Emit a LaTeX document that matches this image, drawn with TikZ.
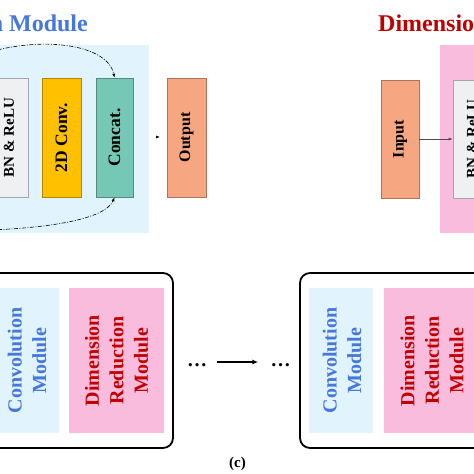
\documentclass[tikz,border=0pt]{standalone}
\usepackage{fontspec}
\setmainfont{Liberation Serif}
\usetikzlibrary{arrows.meta}
\definecolor{cblue}{RGB}{225,243,252}
\definecolor{cpink}{RGB}{250,188,220}
\definecolor{tblue}{RGB}{70,120,220}
\definecolor{tred}{RGB}{192,0,0}
\definecolor{csalmon}{RGB}{246,166,128}
\definecolor{cyellow}{RGB}{255,192,0}
\definecolor{cteal}{RGB}{118,200,182}
\definecolor{cgray}{RGB}{238,240,242}
\tikzset{
  layer/.style={draw=#1!70!black, line width=0.6pt, rotate=90, minimum width=119pt, minimum height=38pt, inner sep=0pt, font=\fontsize{16}{18}\selectfont\bfseries},
  title/.style={font=\fontsize{24}{28}\selectfont\bfseries, inner sep=0pt},
  modtext/.style={rotate=90, align=center, inner sep=0pt, font=\fontsize{20}{24.5}\selectfont\bfseries},
  frame/.style={draw=black, line width=1.8pt, rounded corners=10pt},
  skip/.style={-{Latex[length=4pt,width=3pt]}, line width=0.6pt, dash pattern=on 4pt off 1.5pt on 1pt off 1.5pt},
  thin arrow/.style={-{Latex[length=4pt,width=3pt]}, line width=0.6pt, draw=black!70},
  dots/.style={font=\fontsize{20}{24}\selectfont\bfseries, inner sep=2pt},
}
\begin{document}
\begin{tikzpicture}[x=1pt,y=-1pt]
\useasboundingbox (0,0) rectangle (474,474);
\clip (0,0) rectangle (474,474);
% top left: convolution module
\fill[cblue] (-10,45) rectangle (149,233);
\node[title, text=tblue, anchor=base east] (tl) at (88,31) {Convolution Module};
\node[layer=cgray, fill=cgray, draw=gray!70, font=\fontsize{15}{18}\selectfont\bfseries] (bnL) at (9,137.5) {BN \& ReLU};
\node[layer=cyellow, fill=cyellow, minimum height=39pt, font=\fontsize{17.5}{18}\selectfont\bfseries] (conv) at (61.5,137.5) {2D Conv.};
\node[layer=cteal, fill=cteal, minimum height=37pt, font=\fontsize{17.5}{18}\selectfont\bfseries] (concat) at (114.5,137.5) {Concat.};
\node[layer=csalmon, fill=csalmon, minimum height=39pt] (output) at (186.5,137.5) {Output};
\coordinate (sA) at (-10,52);
\coordinate (sB) at (-10,230);
\draw[skip] (sA) .. controls (45,36) and (108,45) .. (concat.east);
\draw[skip] (sB) .. controls (45,228) and (105,220) .. (concat.west);
\coordinate (tA) at (156,137);
\coordinate (tB) at (160,137);
\draw[thin arrow, draw=black] (tA) -- (tB);
% top right: dimension reduction module
\fill[cpink] (440,45) rectangle (494,233);
\node[title, text=tred, anchor=base west] (tr) at (378,31) {Dimension Reduction Module};
\node[layer=csalmon, fill=csalmon, minimum width=118pt] (input) at (400,139) {Input};
\node[layer=cgray, fill=cgray, draw=gray!70, minimum width=118pt, font=\fontsize{15}{18}\selectfont\bfseries] (bnR) at (472,139) {BN \& ReLU};
\draw[thin arrow] (input) -- (bnR);
% bottom row
\draw[frame] (-20,273) rectangle (173,448);
\fill[cblue] (-5,288) rectangle (59,433);
\node[modtext, text=tblue] (cmL) at (27,360.5) {Convolution\\Module};
\fill[cpink] (69,288) rectangle (164,433);
\node[modtext, text=tred] (dmL) at (116.5,360.5) {Dimension\\Reduction\\Module};
\node[dots] (dotsL) at (197,365) {…};
\node[dots] (dotsR) at (280.5,365) {…};
\draw[-{Latex[length=6pt,width=5pt]}, line width=1.3pt, shorten <=8pt, shorten >=10pt] (dotsL.east |- 0,362) -- (dotsR.west |- 0,362);
\draw[frame] (300,273) rectangle (494,448);
\fill[cblue] (309,288) rectangle (373,433);
\node[modtext, text=tblue] (cmR) at (342,360.5) {Convolution\\Module};
\fill[cpink] (384,288) rectangle (494,433);
\node[modtext, text=tred] (dmR) at (432,360.5) {Dimension\\Reduction\\Module};
\node[font=\fontsize{15}{17}\selectfont\bfseries, inner sep=0pt] (cap) at (237.5,464) {(c)};
\end{tikzpicture}
\end{document}
